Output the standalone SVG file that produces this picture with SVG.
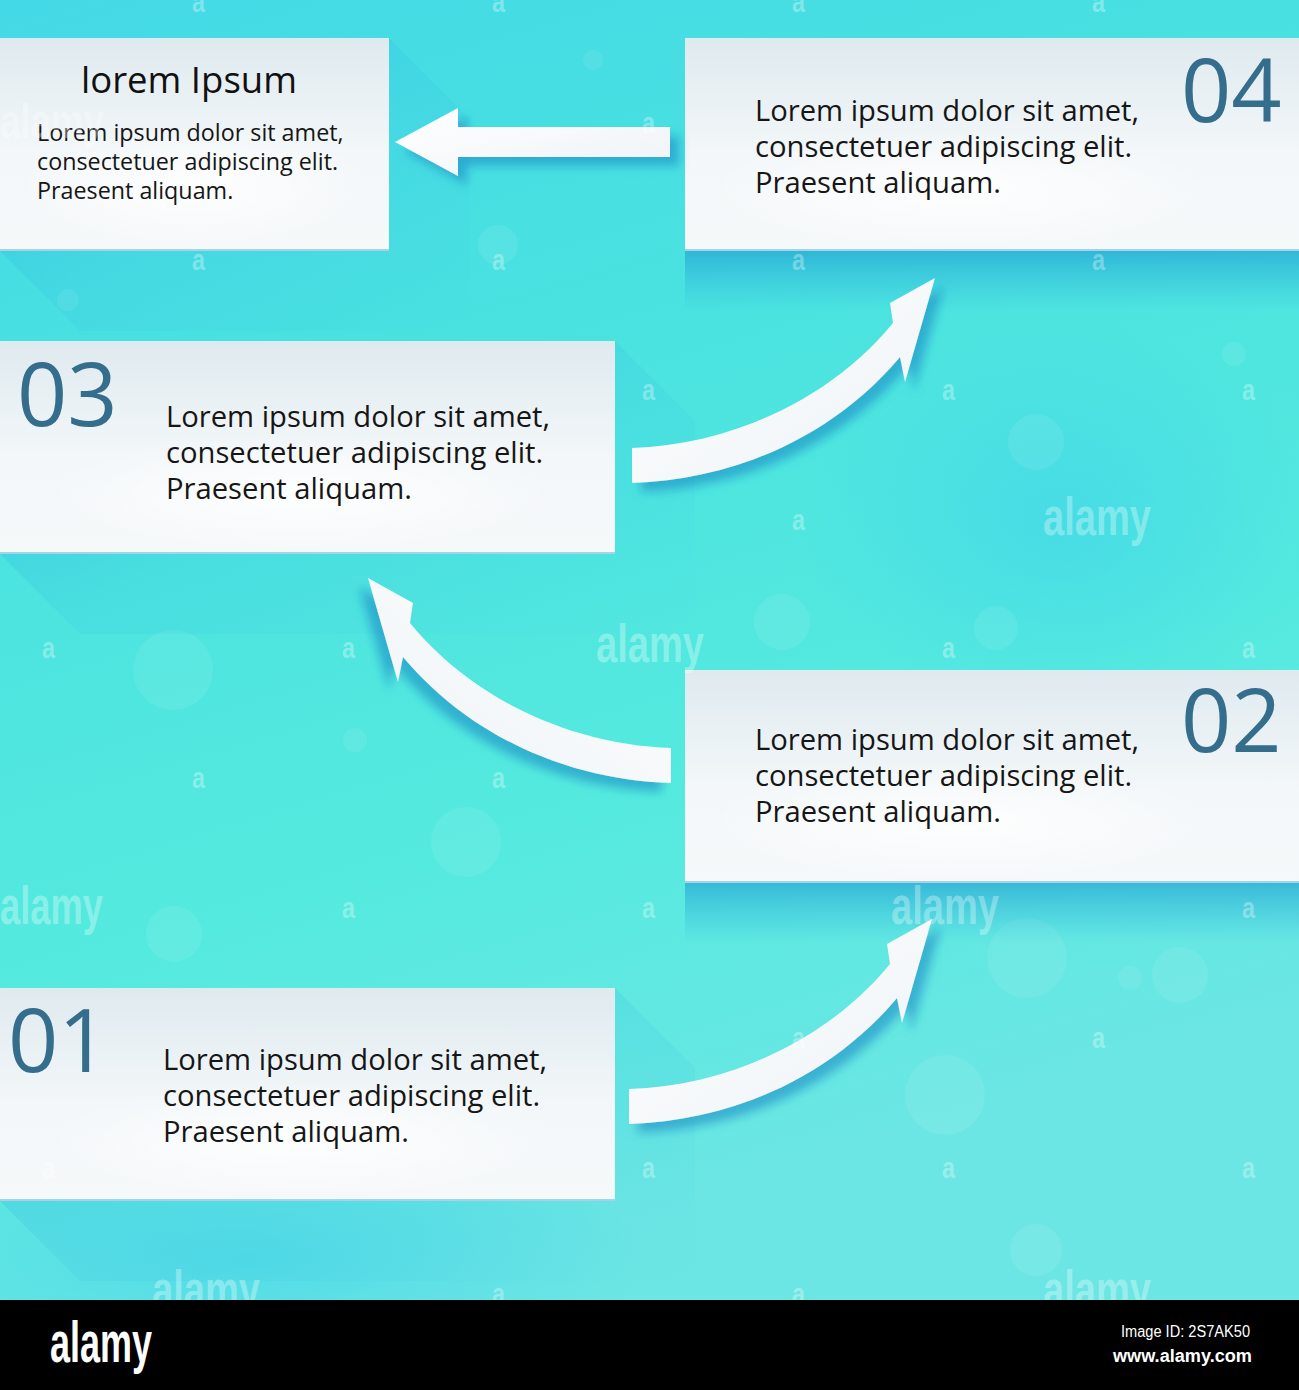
<svg xmlns="http://www.w3.org/2000/svg" width="1299" height="1390" viewBox="0 0 1299 1390">
<defs>
<linearGradient id="bg" x1="0" y1="0" x2="0.3" y2="1">
<stop offset="0" stop-color="#44d9e6"/>
<stop offset="0.35" stop-color="#4ae2e0"/>
<stop offset="0.7" stop-color="#55eadf"/>
<stop offset="1" stop-color="#6ce6e4"/>
</linearGradient>
<radialGradient id="glow" cx="0.5" cy="0.5" r="0.5">
<stop offset="0" stop-color="#3fd2ea" stop-opacity="0.55"/>
<stop offset="1" stop-color="#3fd2ea" stop-opacity="0"/>
</radialGradient>
<linearGradient id="card" x1="0" y1="0" x2="0" y2="1">
<stop offset="0" stop-color="#dfeaef"/>
<stop offset="0.55" stop-color="#f3f7f9"/>
<stop offset="1" stop-color="#f6f9fa"/>
</linearGradient>
<radialGradient id="cardhi" cx="0.5" cy="0.5" r="0.5">
<stop offset="0" stop-color="#ffffff" stop-opacity="0.9"/>
<stop offset="1" stop-color="#ffffff" stop-opacity="0"/>
</radialGradient>
<linearGradient id="shade" x1="0" y1="0" x2="1" y2="1">
<stop offset="0" stop-color="#1f9fd6" stop-opacity="0.45"/>
<stop offset="0.5" stop-color="#2aaee0" stop-opacity="0.12"/>
<stop offset="1" stop-color="#2aaee0" stop-opacity="0"/>
</linearGradient>
<linearGradient id="shadeDown" x1="0" y1="0" x2="0" y2="1">
<stop offset="0" stop-color="#1e9ad2" stop-opacity="0.6"/>
<stop offset="1" stop-color="#2aaee0" stop-opacity="0"/>
</linearGradient>
<linearGradient id="arrowFill" x1="0" y1="0" x2="1" y2="1">
<stop offset="0" stop-color="#ffffff"/>
<stop offset="1" stop-color="#eef3f6"/>
</linearGradient>
<filter id="ashadow" x="-20%" y="-20%" width="150%" height="150%">
<feGaussianBlur in="SourceAlpha" stdDeviation="5"/>
<feOffset dx="9" dy="9" result="b"/>
<feFlood flood-color="#1a86c4" flood-opacity="0.55"/>
<feComposite in2="b" operator="in"/>
<feMerge><feMergeNode/><feMergeNode in="SourceGraphic"/></feMerge>
</filter>
<path id="curveUp" d="M632,448 C730,445 830,400 893,323 L890,303 L935,278 L905,382 L900,357 C830,440 730,480 632,483 Z"/>
</defs>
<style>
.card{fill:url(#card);}
.hi{fill:url(#cardhi);}
.edge{fill:#a6d3e6;}
.body{font-family:"Open Sans","Noto Sans",sans-serif;font-size:29.2px;fill:#161616;}
.small{font-family:"Open Sans","Noto Sans",sans-serif;font-size:23.3px;fill:#161616;}
.title{font-family:"Open Sans","Noto Sans",sans-serif;font-size:36.5px;fill:#111;}
.num{font-family:"Open Sans","Noto Sans",sans-serif;font-size:88px;fill:#356d8c;}
.arrow{fill:url(#arrowFill);filter:url(#ashadow);}
.wm{font-family:"Liberation Sans","DejaVu Sans",sans-serif;font-weight:bold;fill:#ffffff;fill-opacity:0.33;}
.bok{fill:#ffffff;fill-opacity:0.08;}
</style>

<g id="background">
<rect x="0" y="0" width="1299" height="1300" fill="url(#bg)"/>
<ellipse cx="1060" cy="520" rx="260" ry="200" fill="url(#glow)"/>
<ellipse cx="250" cy="1260" rx="400" ry="120" fill="url(#glow)"/>
<circle class="bok" cx="173" cy="670" r="40"/>
<circle class="bok" cx="466" cy="842" r="35"/>
<circle class="bok" cx="1036" cy="442" r="28"/>
<circle class="bok" cx="1027" cy="958" r="40"/>
<circle class="bok" cx="1180" cy="975" r="28"/>
<circle class="bok" cx="996" cy="628" r="22"/>
<circle class="bok" cx="782" cy="622" r="28"/>
<circle class="bok" cx="174" cy="934" r="28"/>
<circle class="bok" cx="945" cy="1095" r="40"/>
<circle class="bok" cx="68" cy="300" r="11"/>
<circle class="bok" cx="593" cy="60" r="10"/>
<circle class="bok" cx="355" cy="740" r="12"/>
<circle class="bok" cx="1234" cy="354" r="12"/>
<circle class="bok" cx="1130" cy="978" r="12"/>
<circle class="bok" cx="1036" cy="1250" r="26"/>
<circle class="bok" cx="498" cy="245" r="20"/>
<!-- long shadows -->
<polygon points="389,38 469,118 469,331 80,331 0,251 389,251" fill="url(#shade)"/>
<rect x="685" y="251" width="614" height="60" fill="url(#shadeDown)"/>
<polygon points="615,341 695,421 695,634 80,634 0,554 615,554" fill="url(#shade)"/>
<rect x="685" y="883" width="614" height="60" fill="url(#shadeDown)"/>
<polygon points="615,988 695,1068 695,1281 80,1281 0,1201 615,1201" fill="url(#shade)"/>
</g>

<g id="node-intro">
<rect class="card" x="0" y="38" width="389" height="213"/>
<ellipse class="hi" cx="195" cy="185" rx="180" ry="60"/>
<rect class="edge" x="0" y="249" width="389" height="2"/>
<text class="title" x="189" y="93" text-anchor="middle">lorem Ipsum</text>
<text class="small" x="37" y="141">Lorem ipsum dolor sit amet,</text>
<text class="small" x="37" y="170">consectetuer adipiscing elit.</text>
<text class="small" x="37" y="199">Praesent aliquam.</text>
</g>

<g id="node-04">
<rect class="card" x="685" y="38" width="614" height="213"/>
<ellipse class="hi" cx="960" cy="190" rx="260" ry="58"/>
<rect class="edge" x="685" y="249" width="614" height="2"/>
<text class="num" x="1181" y="122">04</text>
<text class="body" x="755" y="121">Lorem ipsum dolor sit amet,</text>
<text class="body" x="755" y="157">consectetuer adipiscing elit.</text>
<text class="body" x="755" y="193">Praesent aliquam.</text>
</g>

<g id="node-03">
<rect class="card" x="0" y="341" width="615" height="213"/>
<ellipse class="hi" cx="300" cy="493" rx="260" ry="58"/>
<rect class="edge" x="0" y="552" width="615" height="2"/>
<text class="num" x="17" y="426">03</text>
<text class="body" x="166" y="427">Lorem ipsum dolor sit amet,</text>
<text class="body" x="166" y="463">consectetuer adipiscing elit.</text>
<text class="body" x="166" y="499">Praesent aliquam.</text>
</g>

<g id="node-02">
<rect class="card" x="685" y="670" width="614" height="213"/>
<ellipse class="hi" cx="960" cy="822" rx="260" ry="58"/>
<rect class="edge" x="685" y="881" width="614" height="2"/>
<text class="num" x="1181" y="752">02</text>
<text class="body" x="755" y="750">Lorem ipsum dolor sit amet,</text>
<text class="body" x="755" y="786">consectetuer adipiscing elit.</text>
<text class="body" x="755" y="822">Praesent aliquam.</text>
</g>

<g id="node-01">
<rect class="card" x="0" y="988" width="615" height="213"/>
<ellipse class="hi" cx="300" cy="1140" rx="260" ry="58"/>
<rect class="edge" x="0" y="1199" width="615" height="2"/>
<text class="num" x="8" y="1072">01</text>
<text class="body" x="163" y="1070">Lorem ipsum dolor sit amet,</text>
<text class="body" x="163" y="1106">consectetuer adipiscing elit.</text>
<text class="body" x="163" y="1142">Praesent aliquam.</text>
</g>

<g id="connectors">
<path class="arrow" d="M670,127 L458,127 L458,108 L395,142 L458,176 L458,157 L670,157 Z"/>
<use href="#curveUp" class="arrow"/>
<g transform="translate(1303,300) scale(-1,1)"><use href="#curveUp" class="arrow"/></g>
<g transform="translate(-3,641)"><use href="#curveUp" class="arrow"/></g>
</g>

<g id="watermarks">
<text class="wm" x="192" y="12" font-size="30" textLength="13" lengthAdjust="spacingAndGlyphs">a</text>
<text class="wm" x="492" y="12" font-size="30" textLength="13" lengthAdjust="spacingAndGlyphs">a</text>
<text class="wm" x="792" y="12" font-size="30" textLength="13" lengthAdjust="spacingAndGlyphs">a</text>
<text class="wm" x="1092" y="12" font-size="30" textLength="13" lengthAdjust="spacingAndGlyphs">a</text>
<text class="wm" x="642" y="133" font-size="30" textLength="13" lengthAdjust="spacingAndGlyphs">a</text>
<text class="wm" x="192" y="270" font-size="30" textLength="13" lengthAdjust="spacingAndGlyphs">a</text>
<text class="wm" x="492" y="270" font-size="30" textLength="13" lengthAdjust="spacingAndGlyphs">a</text>
<text class="wm" x="792" y="270" font-size="30" textLength="13" lengthAdjust="spacingAndGlyphs">a</text>
<text class="wm" x="1092" y="270" font-size="30" textLength="13" lengthAdjust="spacingAndGlyphs">a</text>
<text class="wm" x="642" y="400" font-size="30" textLength="13" lengthAdjust="spacingAndGlyphs">a</text>
<text class="wm" x="942" y="400" font-size="30" textLength="13" lengthAdjust="spacingAndGlyphs">a</text>
<text class="wm" x="1242" y="400" font-size="30" textLength="13" lengthAdjust="spacingAndGlyphs">a</text>
<text class="wm" x="792" y="530" font-size="30" textLength="13" lengthAdjust="spacingAndGlyphs">a</text>
<text class="wm" x="42" y="658" font-size="30" textLength="13" lengthAdjust="spacingAndGlyphs">a</text>
<text class="wm" x="342" y="658" font-size="30" textLength="13" lengthAdjust="spacingAndGlyphs">a</text>
<text class="wm" x="942" y="658" font-size="30" textLength="13" lengthAdjust="spacingAndGlyphs">a</text>
<text class="wm" x="1242" y="658" font-size="30" textLength="13" lengthAdjust="spacingAndGlyphs">a</text>
<text class="wm" x="192" y="788" font-size="30" textLength="13" lengthAdjust="spacingAndGlyphs">a</text>
<text class="wm" x="492" y="788" font-size="30" textLength="13" lengthAdjust="spacingAndGlyphs">a</text>
<text class="wm" x="342" y="918" font-size="30" textLength="13" lengthAdjust="spacingAndGlyphs">a</text>
<text class="wm" x="642" y="918" font-size="30" textLength="13" lengthAdjust="spacingAndGlyphs">a</text>
<text class="wm" x="1242" y="918" font-size="30" textLength="13" lengthAdjust="spacingAndGlyphs">a</text>
<text class="wm" x="792" y="1048" font-size="30" textLength="13" lengthAdjust="spacingAndGlyphs">a</text>
<text class="wm" x="1092" y="1048" font-size="30" textLength="13" lengthAdjust="spacingAndGlyphs">a</text>
<text class="wm" x="42" y="1178" font-size="30" textLength="13" lengthAdjust="spacingAndGlyphs">a</text>
<text class="wm" x="642" y="1178" font-size="30" textLength="13" lengthAdjust="spacingAndGlyphs">a</text>
<text class="wm" x="942" y="1178" font-size="30" textLength="13" lengthAdjust="spacingAndGlyphs">a</text>
<text class="wm" x="1242" y="1178" font-size="30" textLength="13" lengthAdjust="spacingAndGlyphs">a</text>
<text class="wm" x="492" y="1304" font-size="30" textLength="13" lengthAdjust="spacingAndGlyphs">a</text>
<text class="wm" x="792" y="1304" font-size="30" textLength="13" lengthAdjust="spacingAndGlyphs">a</text>
<text class="wm" x="0" y="138" font-size="48" textLength="104" lengthAdjust="spacingAndGlyphs">alamy</text>
<text class="wm" x="1043" y="535" font-size="54" textLength="108" lengthAdjust="spacingAndGlyphs">alamy</text>
<text class="wm" x="596" y="662" font-size="54" textLength="108" lengthAdjust="spacingAndGlyphs">alamy</text>
<text class="wm" x="0" y="924" font-size="54" textLength="103" lengthAdjust="spacingAndGlyphs">alamy</text>
<text class="wm" x="891" y="924" font-size="54" textLength="108" lengthAdjust="spacingAndGlyphs">alamy</text>
<text class="wm" x="152" y="1308" font-size="54" textLength="108" lengthAdjust="spacingAndGlyphs">alamy</text>
<text class="wm" x="1043" y="1308" font-size="54" textLength="108" lengthAdjust="spacingAndGlyphs">alamy</text>
</g>

<g id="footer">
<rect x="0" y="1300" width="1299" height="90" fill="#000"/>
<text x="50" y="1362" font-family="Liberation Sans, DejaVu Sans, sans-serif" font-weight="bold" font-size="58" fill="#fff" textLength="102" lengthAdjust="spacingAndGlyphs">alamy</text>
<text x="1121" y="1337" font-family="Liberation Sans, DejaVu Sans, sans-serif" font-size="16" fill="#fff" textLength="129" lengthAdjust="spacingAndGlyphs">Image ID: 2S7AK50</text>
<text x="1113" y="1362" font-family="Liberation Sans, DejaVu Sans, sans-serif" font-weight="bold" font-size="18" fill="#fff" textLength="139" lengthAdjust="spacingAndGlyphs">www.alamy.com</text>
</g>
</svg>
